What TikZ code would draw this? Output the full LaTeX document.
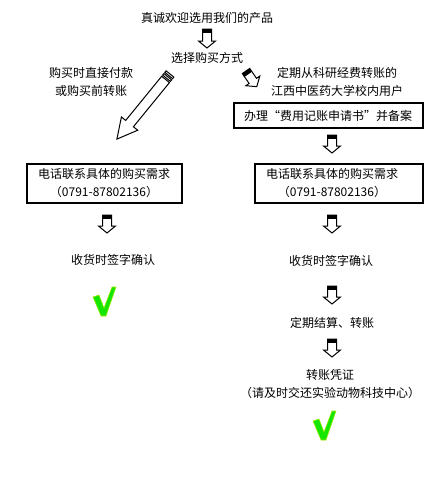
\documentclass[tikz,border=0pt]{standalone}
\usepackage{fontspec}
\newfontfamily\cjk{Noto Sans CJK SC}
\usetikzlibrary{calc}
\tikzset{
 txt/.style={font=\cjk\fontsize{9}{11}\selectfont, inner sep=0pt, align=center},
 boxline/.style={draw, line width=1.1pt},
 okmark/.style={fill={rgb,255:red,20;green,230;blue,0}, draw={rgb,255:red,160;green,235;blue,0}, line width=0.4pt},
}
\newcommand{\smallarrow}[4]{%
 \begin{scope}[shift={(#1,#2)}, x=0.75pt, y=0.75pt, rotate=#3, line width=0.75pt]
 \draw[fill=white] (0,-4.5) -- (#4-7,-4.5) -- (#4-7,-8.5) -- (#4,0) -- (#4-7,8.5) -- (#4-7,4.5) -- (0,4.5) -- cycle;
 \fill (0,-4.5) rectangle (4,4.5);
 \end{scope}}
\newcommand{\okcheck}[2]{%
 \begin{scope}[shift={(#1,#2)}]
 \path[okmark] (0,10) -- (6,8) -- (11,21) -- (19,0) -- (23,0) -- (13,29) -- (8,29) -- cycle;
 \end{scope}}
\begin{document}
\begin{tikzpicture}[x=0.75pt, y=-0.75pt]
\useasboundingbox (0,0) rectangle (426,482);
% texts
\node[txt] (title) at (207,18) {真诚欢迎选用我们的产品};
\node[txt] (choose) at (207,58) {选择购买方式};
\node[txt] (lefttxt) at (91,82) {购买时直接付款\\[3pt]或购买前转账};
\node[txt] (righttxt) at (337,82) {定期从科研经费转账的\\[3pt]江西中医药大学校内用户};
% boxes
\draw[boxline] (234,103) rectangle (423,128);
\node[txt] (apply) at (328,116) {办理“费用记账申请书”并备案};
\draw[boxline] (27,164) rectangle (182,203);
\node[txt] (phoneL) at (104,183) {电话联系具体的购买需求\\[2pt]（0791-87802136）};
\draw[boxline] (255,164) rectangle (423,203);
\node[txt] (phoneR) at (332,183) {电话联系具体的购买需求\\[2pt]（0791-87802136）};
\node[txt] (signL) at (113,260) {收货时签字确认};
\node[txt] (signR) at (331,261) {收货时签字确认};
\node[txt] (settle) at (332,323) {定期结算、转账};
\node[txt] (voucher) at (330,384) {转账凭证\\[3pt]（请及时交还实验动物科技中心）};
% small down arrows
\smallarrow{207}{29}{-90}{19}
\smallarrow{332}{135}{-90}{18}
\smallarrow{107}{215}{-90}{18}
\smallarrow{332}{215}{-90}{18}
\smallarrow{332}{286}{-90}{18}
\smallarrow{332}{339}{-90}{18}
% small diagonal arrow
\smallarrow{246}{71}{-55.5}{19}
% big diagonal arrow
\begin{scope}[shift={(170,74)}, x=0.75pt, y=0.75pt, rotate=-129.2, line width=0.75pt]
 \draw[fill=white] (7,-5) -- (64,-5) -- (64,-10.5) -- (84,0) -- (64,10.5) -- (64,5) -- (7,5) -- cycle;
 \draw (0,-5) rectangle (2,5);
 \draw (3.5,-5) rectangle (5.5,5);
\end{scope}
% check marks
\okcheck{93}{287}
\okcheck{313}{411}
\end{tikzpicture}
\end{document}
